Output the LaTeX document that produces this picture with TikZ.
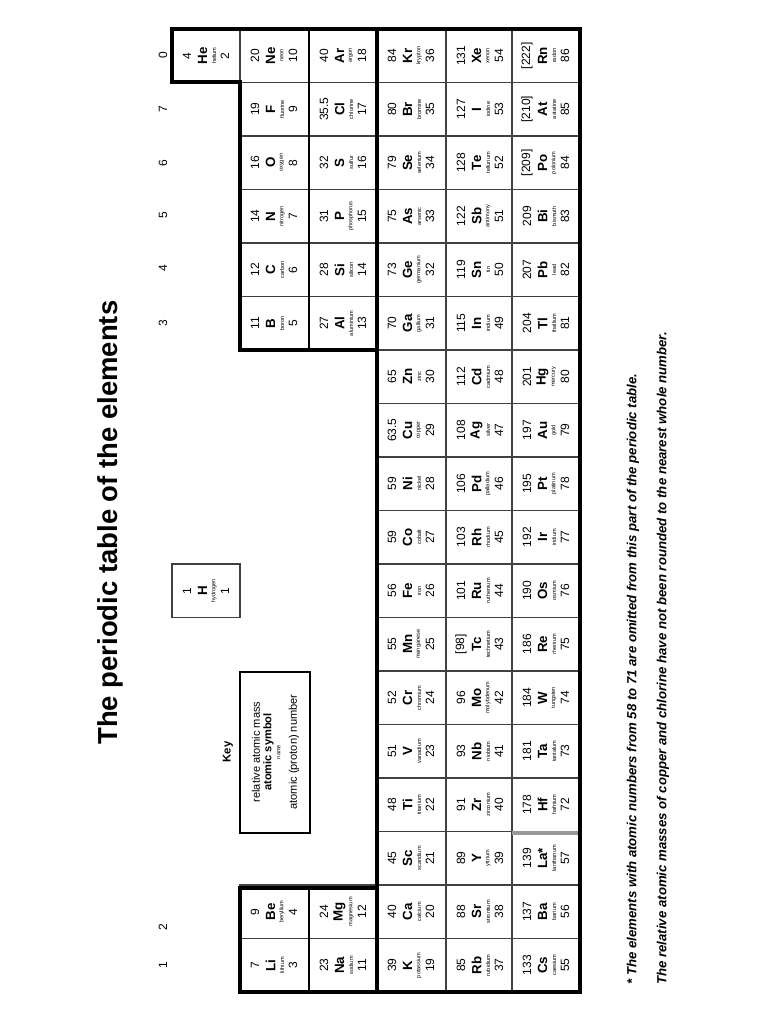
\documentclass[tikz,border=0pt]{standalone}
\usepackage{fontspec}
\setmainfont{Liberation Sans}
\begin{document}
\begin{tikzpicture}[x=0.75pt,y=0.75pt,
  msty/.style={rotate=90,inner sep=0pt,font=\fontsize{9}{9}\selectfont},
  ssty/.style={rotate=90,inner sep=0pt,font=\fontsize{10}{10}\selectfont\bfseries},
  nsty/.style={rotate=90,inner sep=0pt,font=\fontsize{4.2}{4.2}\selectfont},
  zsty/.style={rotate=90,inner sep=0pt,font=\fontsize{9}{9}\selectfont},
  cellline/.style={draw=black!75,line width=0.8pt},
  thickline/.style={draw=black,line width=2.4pt,line join=miter},
  medline/.style={draw=black,line width=1.5pt},
  keytext/.style={rotate=90,inner sep=0pt,font=\fontsize{8.3}{8.3}\selectfont},
  grpnum/.style={rotate=90,inner sep=0pt,font=\fontsize{9}{9}\selectfont}]
\useasboundingbox (0,0) rectangle (768,-1024);
\newcommand\el[6]{%
  \pgfmathsetmacro\xl{{172,240,309,377,446,512,580}[#1-1]}%
  \pgfmathsetmacro\xr{{172,240,309,377,446,512,580}[#1]}%
  \pgfmathsetmacro\cy{-(992-(#2-0.5)*53.5)}%
  \draw[cellline] (\xl,\cy+26.75) rectangle (\xr,\cy-26.75);
  \node[msty] (m#6) at (\xl+15,\cy) {#3};
  \node[ssty] (s#6) at (\xl+30.5,\cy) {#4};
  \node[nsty] (n#6) at (\xl+42,\cy) {#5};
  \node[zsty] (z#6) at (\xl+53,\cy) {#6};}
% period 1
\el{1}{8}{1}{H}{hydrogen}{1}
\el{1}{18}{4}{He}{helium}{2}
% period 2
\el{2}{1}{7}{Li}{lithium}{3}
\el{2}{2}{9}{Be}{beryllium}{4}
\el{2}{13}{11}{B}{boron}{5}
\el{2}{14}{12}{C}{carbon}{6}
\el{2}{15}{14}{N}{nitrogen}{7}
\el{2}{16}{16}{O}{oxygen}{8}
\el{2}{17}{19}{F}{fluorine}{9}
\el{2}{18}{20}{Ne}{neon}{10}
% period 3
\el{3}{1}{23}{Na}{sodium}{11}
\el{3}{2}{24}{Mg}{magnesium}{12}
\el{3}{13}{27}{Al}{aluminium}{13}
\el{3}{14}{28}{Si}{silicon}{14}
\el{3}{15}{31}{P}{phosphorus}{15}
\el{3}{16}{32}{S}{sulfur}{16}
\el{3}{17}{35.5}{Cl}{chlorine}{17}
\el{3}{18}{40}{Ar}{argon}{18}
% period 4
\el{4}{1}{39}{K}{potassium}{19}
\el{4}{2}{40}{Ca}{calcium}{20}
\el{4}{3}{45}{Sc}{scandium}{21}
\el{4}{4}{48}{Ti}{titanium}{22}
\el{4}{5}{51}{V}{vanadium}{23}
\el{4}{6}{52}{Cr}{chromium}{24}
\el{4}{7}{55}{Mn}{manganese}{25}
\el{4}{8}{56}{Fe}{iron}{26}
\el{4}{9}{59}{Co}{cobalt}{27}
\el{4}{10}{59}{Ni}{nickel}{28}
\el{4}{11}{63.5}{Cu}{copper}{29}
\el{4}{12}{65}{Zn}{zinc}{30}
\el{4}{13}{70}{Ga}{gallium}{31}
\el{4}{14}{73}{Ge}{germanium}{32}
\el{4}{15}{75}{As}{arsenic}{33}
\el{4}{16}{79}{Se}{selenium}{34}
\el{4}{17}{80}{Br}{bromine}{35}
\el{4}{18}{84}{Kr}{krypton}{36}
% period 5
\el{5}{1}{85}{Rb}{rubidium}{37}
\el{5}{2}{88}{Sr}{strontium}{38}
\el{5}{3}{89}{Y}{yttrium}{39}
\el{5}{4}{91}{Zr}{zirconium}{40}
\el{5}{5}{93}{Nb}{niobium}{41}
\el{5}{6}{96}{Mo}{molybdenum}{42}
\el{5}{7}{[98]}{Tc}{technetium}{43}
\el{5}{8}{101}{Ru}{ruthenium}{44}
\el{5}{9}{103}{Rh}{rhodium}{45}
\el{5}{10}{106}{Pd}{palladium}{46}
\el{5}{11}{108}{Ag}{silver}{47}
\el{5}{12}{112}{Cd}{cadmium}{48}
\el{5}{13}{115}{In}{indium}{49}
\el{5}{14}{119}{Sn}{tin}{50}
\el{5}{15}{122}{Sb}{antimony}{51}
\el{5}{16}{128}{Te}{tellurium}{52}
\el{5}{17}{127}{I}{iodine}{53}
\el{5}{18}{131}{Xe}{xenon}{54}
% period 6
\el{6}{1}{133}{Cs}{caesium}{55}
\el{6}{2}{137}{Ba}{barium}{56}
\el{6}{3}{139}{La*}{lanthanum}{57}
\el{6}{4}{178}{Hf}{hafnium}{72}
\el{6}{5}{181}{Ta}{tantalum}{73}
\el{6}{6}{184}{W}{tungsten}{74}
\el{6}{7}{186}{Re}{rhenium}{75}
\el{6}{8}{190}{Os}{osmium}{76}
\el{6}{9}{192}{Ir}{iridium}{77}
\el{6}{10}{195}{Pt}{platinum}{78}
\el{6}{11}{197}{Au}{gold}{79}
\el{6}{12}{201}{Hg}{mercury}{80}
\el{6}{13}{204}{Tl}{thallium}{81}
\el{6}{14}{207}{Pb}{lead}{82}
\el{6}{15}{209}{Bi}{bismuth}{83}
\el{6}{16}{[209]}{Po}{polonium}{84}
\el{6}{17}{[210]}{At}{astatine}{85}
\el{6}{18}{[222]}{Rn}{radon}{86}
% heavier lines
\draw[medline] (309,-29) -- (309,-350);
\draw[medline] (309,-888) -- (309,-992);
\draw[thickline] (377,-29) -- (377,-992);
\draw[draw=black!40,line width=2.5pt] (512,-833) -- (580,-833);
\draw[thickline] (172,-29) -- (580,-29) -- (580,-992) -- (240,-992) -- (240,-888)
  -- (377,-888) -- (377,-350) -- (240,-350) -- (240,-82) -- (172,-82) -- cycle;
% key
\draw[draw=black,line width=1.8pt] (240,-672) rectangle (310,-833);
\node[keytext,font=\fontsize{8.5}{8.5}\selectfont\bfseries] (keyt) at (228,-752) {Key};
\node[keytext] (k1) at (256,-752) {relative atomic mass};
\node[keytext,font=\fontsize{8.3}{8.3}\selectfont\bfseries] (k2) at (268.5,-752) {atomic symbol};
\node[keytext,font=\fontsize{4.2}{4.2}\selectfont] (k3) at (279,-752) {name};
\node[keytext] (k4) at (294,-752) {atomic (proton) number};
% group numbers
\node[grpnum] (g1) at (163,-965) {1};
\node[grpnum] (g2) at (163,-927) {2};
\node[grpnum] (g3) at (163,-323) {3};
\node[grpnum] (g4) at (163,-268) {4};
\node[grpnum] (g5) at (163,-215) {5};
\node[grpnum] (g6) at (163,-163) {6};
\node[grpnum] (g7) at (163,-109) {7};
\node[grpnum] (g0) at (163,-55) {0};
% title
\node[rotate=90,inner sep=0pt,anchor=west,font=\fontsize{20.6}{20.6}\selectfont\bfseries] (title) at (110,-745) {The periodic table of the elements};
% footnotes
\node[rotate=90,inner sep=0pt,anchor=west,font=\fontsize{9.9}{9.9}\selectfont\bfseries\itshape] (fn1) at (633,-985) {* The elements with atomic numbers from 58 to 71 are omitted from this part of the periodic table.};
\node[rotate=90,inner sep=0pt,anchor=west,font=\fontsize{9.9}{9.9}\selectfont\bfseries\itshape] (fn2) at (663,-985) {The relative atomic masses of copper and chlorine have not been rounded to the nearest whole number.};
\end{tikzpicture}
\end{document}
